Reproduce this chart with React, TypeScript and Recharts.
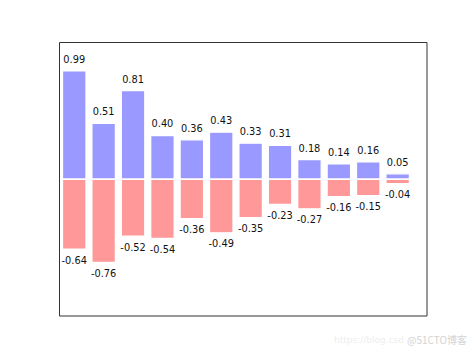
import React from "react";
import { BarChart, Bar, XAxis, YAxis, LabelList, ReferenceArea } from "recharts";

const positions = [0, 1, 2, 3, 4, 5, 6, 7, 8, 9, 10, 11];
const upValues = [0.99, 0.51, 0.81, 0.4, 0.36, 0.43, 0.33, 0.31, 0.18, 0.14, 0.16, 0.05];
const downValues = [-0.64, -0.76, -0.52, -0.54, -0.36, -0.49, -0.35, -0.23, -0.27, -0.16, -0.15, -0.04];

const data = positions.map((x, i) => ({ x, up: upValues[i], down: downValues[i] }));

const UpLabel = (props: any) => {
  const { x, y, width, height, value } = props;
  const top = Math.min(y, y + height);
  return (
    <text x={x + width / 2} y={top - 8} textAnchor="middle" fontSize={9.8} fill="#111" fontFamily="DejaVu Sans">
      {Number(value).toFixed(2)}
    </text>
  );
};

const DownLabel = (props: any) => {
  const { x, y, width, height, value } = props;
  const bottom = Math.max(y, y + height);
  return (
    <text x={x + width / 2} y={bottom + 14.5} textAnchor="middle" fontSize={9.8} fill="#111" fontFamily="DejaVu Sans">
      {Number(value).toFixed(2)}
    </text>
  );
};

export default function App() {
  return (
    <div style={{ position: "absolute", left: 0, top: 0, width: 474, height: 355, background: "#fff" }}>
      <BarChart
        width={474}
        height={355}
        data={data}
        stackOffset="sign"
        margin={{ top: 42.5, right: 47, bottom: 39, left: 59.5 }}
      >
        <XAxis dataKey="x" type="number" domain={[-0.5, 12]} hide allowDataOverflow />
        <YAxis type="number" domain={[-1.25, 1.25]} hide allowDataOverflow />
        <ReferenceArea x1={-0.5} x2={12} y1={-1.25} y2={1.25} fill="none" stroke="#333" strokeWidth={1} fillOpacity={0} />
        <Bar dataKey="up" stackId="a" fill="#9999ff" stroke="#ffffff" strokeWidth={1.3} barSize={23.5} isAnimationActive={false}>
          <LabelList dataKey="up" content={UpLabel} />
        </Bar>
        <Bar dataKey="down" stackId="a" fill="#ff9999" stroke="#ffffff" strokeWidth={1.3} barSize={23.5} isAnimationActive={false}>
          <LabelList dataKey="down" content={DownLabel} />
        </Bar>
      </BarChart>
      <div style={{ position: "absolute", right: 70, top: 335, fontSize: 9, fontFamily: "DejaVu Sans", color: "#eeeeee", whiteSpace: "nowrap", lineHeight: "11px" }}>
        https://blog.csd
      </div>
      <div style={{ position: "absolute", left: 407, top: 334, fontSize: 10, fontFamily: "Noto Sans CJK SC", color: "#d4d4d4", whiteSpace: "nowrap", lineHeight: "12px" }}>
        @51CTO博客
      </div>
    </div>
  );
}
